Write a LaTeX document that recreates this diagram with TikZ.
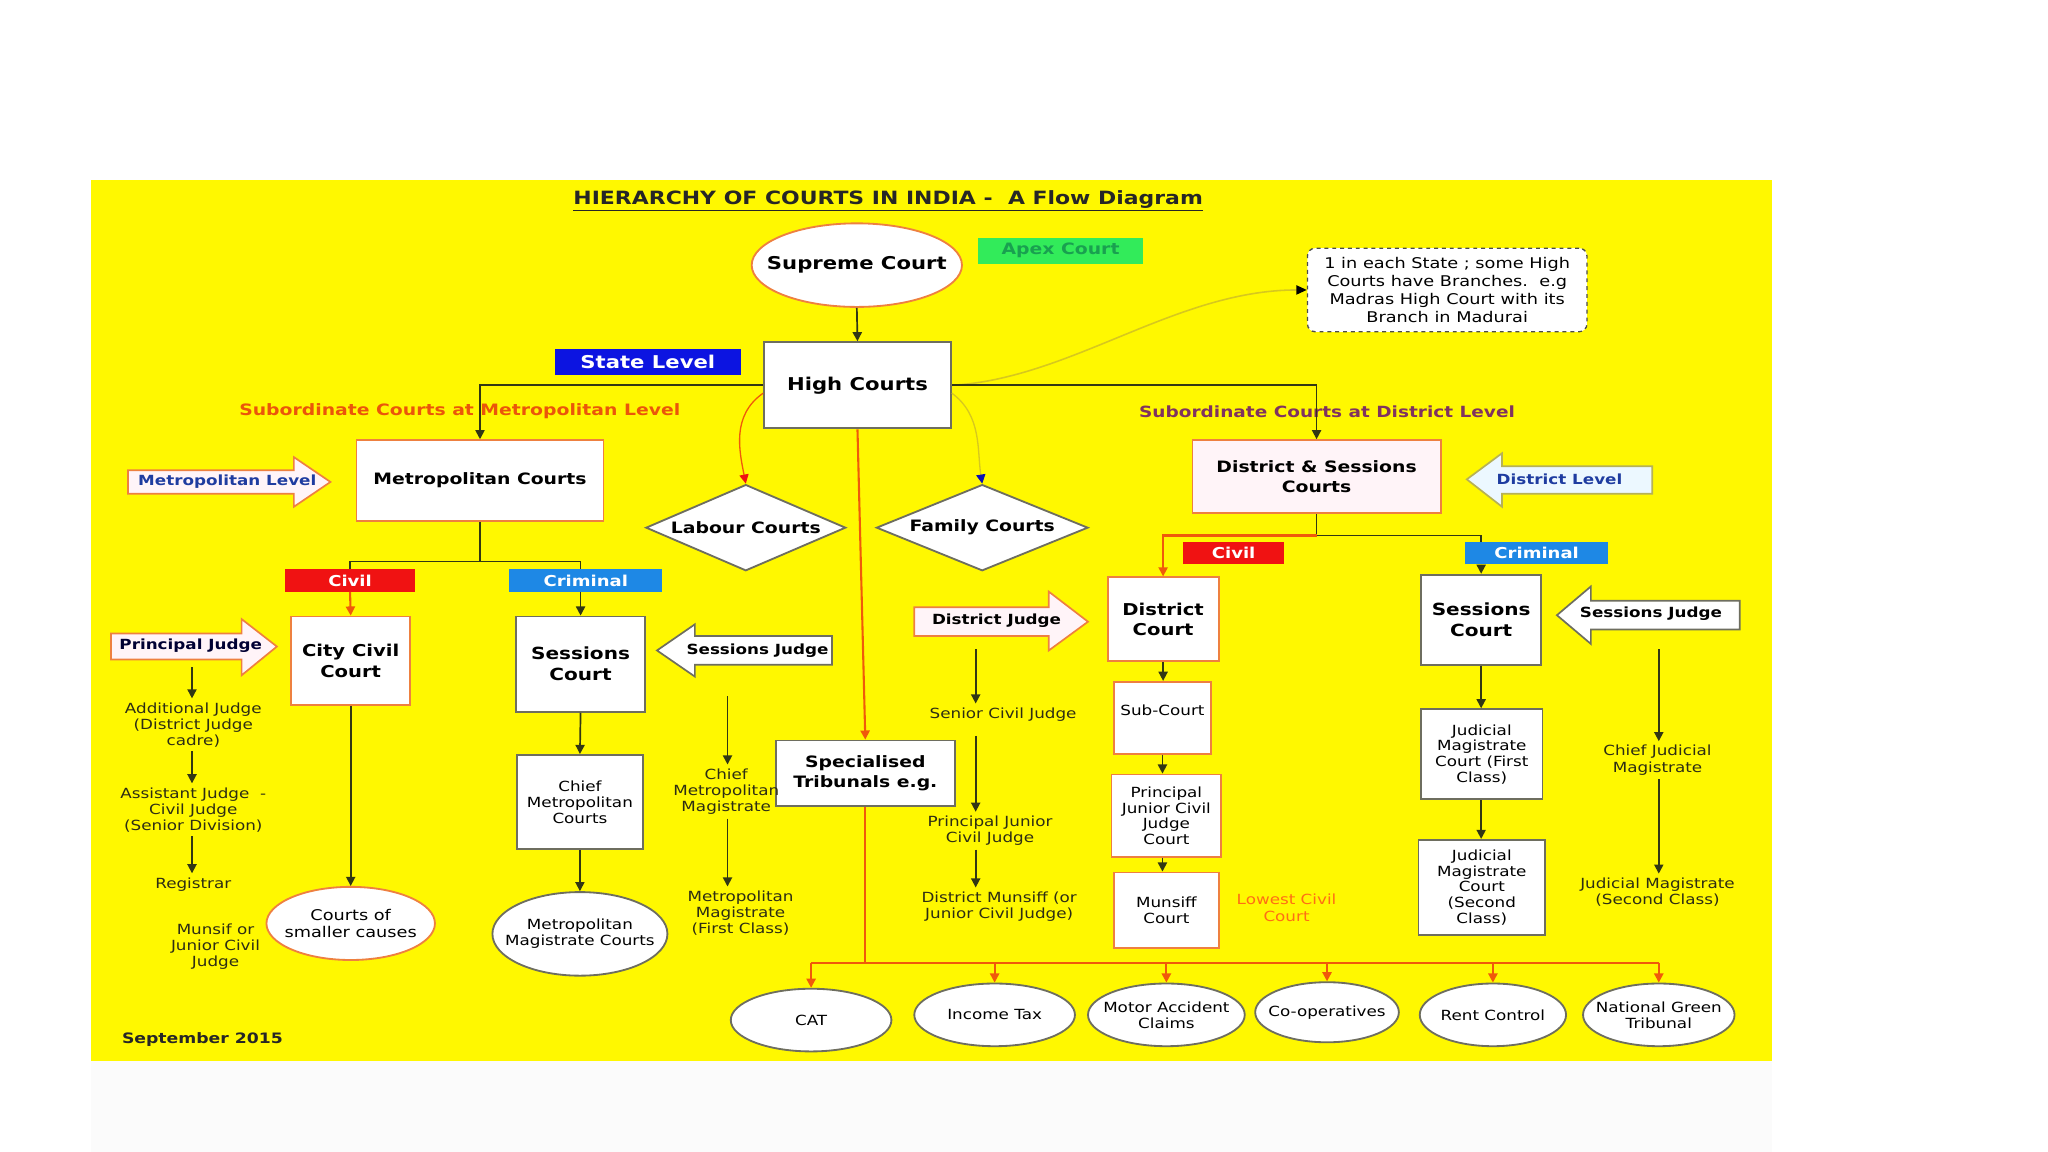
\documentclass[tikz,border=0pt]{standalone}
\usepackage{fontspec}
\setmainfont{DejaVu Sans}[FakeStretch=1.2]
\usetikzlibrary{shapes.geometric,arrows.meta}
\definecolor{bgyellow}{RGB}{255,248,0}
\definecolor{stateblue}{RGB}{12,20,225}
\definecolor{apexgreen}{RGB}{50,235,90}
\definecolor{apextext}{RGB}{25,160,80}
\definecolor{civred}{RGB}{240,18,18}
\definecolor{crimblue}{RGB}{30,136,229}
\definecolor{borange}{RGB}{238,128,64}
\definecolor{bgray}{RGB}{110,110,95}
\definecolor{ldark}{RGB}{50,55,20}
\definecolor{lorange}{RGB}{240,90,10}
\definecolor{metrotxt}{RGB}{235,85,10}
\definecolor{disttxt}{RGB}{128,50,95}
\definecolor{smalltxt}{RGB}{45,45,20}
\definecolor{lvlblue}{RGB}{30,60,160}
\definecolor{curveyel}{RGB}{215,200,30}
\definecolor{pinkfill}{RGB}{255,244,248}
\definecolor{cyanfill}{RGB}{236,248,255}
\definecolor{lowtxt}{RGB}{255,110,20}
\tikzset{
  box/.style={rectangle, draw=#1, fill=white, line width=1.4pt, inner sep=1pt, align=center},
  oval/.style={ellipse, draw=#1, fill=white, line width=1.4pt, inner sep=0pt},
  dia/.style={diamond, draw=bgray, fill=white, line width=1.4pt, inner sep=0pt},
  bigb/.style={font=\fontsize{13.5}{16}\selectfont\bfseries},
  midb/.style={font=\fontsize{12}{15.5}\selectfont\bfseries},
  tagb/.style={font=\fontsize{10.7}{13}\selectfont\bfseries},
  smallr/.style={font=\fontsize{10.7}{12.3}\selectfont, align=center},
  smalltext/.style={smallr, text=smalltxt, inner sep=3pt},
  conn/.style={draw=ldark, line width=1.3pt},
  oconn/.style={draw=lorange, line width=1.6pt},
  arr/.style={-{Triangle[length=7pt,width=7pt]}},
  blockarrow/.style={line width=1.3pt, line join=miter},
  tagbox/.style={minimum height=17, inner sep=0pt, text=white, font=\fontsize{11.5}{13}\selectfont\bfseries}
}
\begin{document}
\begin{tikzpicture}[x=1pt,y=-1pt]
\useasboundingbox (0,0) rectangle (1568,882);
\fill[white] (0,0) rectangle (1568,882);
\fill[black!1.5] (70,812) rectangle (1357,882);
\fill[bgyellow] (70,138) rectangle (1357,812);

% title
\node[font=\fontsize{14}{16}\selectfont\bfseries, text=black!85] (title) at (680,154) {\underline{HIERARCHY OF COURTS IN INDIA -\ \ A Flow Diagram}};

% top
\node[oval=borange, minimum width=161, minimum height=64] (sup) at (656,203) {};
\node[bigb] (supt) at (sup.center) {Supreme Court};
\node[fill=apexgreen, text=apextext, midb, minimum width=126, minimum height=20, inner sep=0pt] (apex) at (812,192) {Apex Court};
\node[box=bgray, bigb, minimum width=143, minimum height=66] (hc) at (656.5,295) {High Courts};
\node[fill=stateblue, text=white, bigb, minimum width=142, minimum height=20, inner sep=0pt] (state) at (496,277) {State Level};
\node[draw=black!70, dashed, rounded corners=6pt, fill=white, line width=1pt, minimum width=214, minimum height=64, align=center, inner sep=2pt, font=\fontsize{11.3}{13.6}\selectfont] (note) at (1108,222) {1 in each State ; some High\\Courts have Branches.\ \ e.g\\Madras High Court with its\\Branch in Madurai};

\draw[conn, arr] (sup.south) -- (hc.north);
\draw[curveyel, line width=1.2pt, -{Triangle[length=8pt,width=7pt,color=black]}] (hc.east) .. controls (820,290) and (900,222) .. (note.west);

% subordinate labels
\node[text=metrotxt, midb] (submetro) at (352,315) {Subordinate Courts at Metropolitan Level};
\node[text=disttxt, font=\fontsize{11.8}{14}\selectfont\bfseries] (subdist) at (1016,315) {Subordinate Courts at District Level};

% metropolitan
\node[box=borange, midb, minimum width=189, minimum height=62] (mc) at (367.5,368) {Metropolitan Courts};
\draw[conn, arr] (hc.west) -| (mc.north);
\draw[blockarrow, draw=borange, fill=pinkfill] (98,360) -- (225,360) -- (225,350) -- (253,369) -- (225,388) -- (225,378) -- (98,378) -- cycle;
\node[text=lvlblue, tagb] (mlvl) at (174,369) {Metropolitan Level};

% labour / family
\node[dia, minimum width=153, minimum height=66] (lab) at (571,404) {};
\node[midb] (labt) at (lab.center) {Labour Courts};
\node[dia, minimum width=162, minimum height=66] (fam) at (752,404) {};
\node[midb] (famt) at (fam.center) {Family Courts};
\draw[lorange, line width=1pt, -{Triangle[length=7pt,width=7pt,color=civred]}] ([yshift=-6pt]hc.west) .. controls (560,318) and (566,345) .. (lab.north);
\draw[curveyel, line width=1pt, -{Triangle[length=7pt,width=7pt,color=stateblue!80!black]}] ([yshift=-6pt]hc.east) .. controls (752,318) and (748,345) .. (fam.north);

% specialised tribunals
\node[box=bgray, midb, minimum width=137, minimum height=50] (st) at (662.5,592) {Specialised\\Tribunals e.g.};
\draw[oconn, arr] (hc.south) -- (st.north);

% metro branches
\node[fill=civred, tagbox, minimum width=100] (civ1) at (268,444.5) {Civil};
\node[fill=crimblue, tagbox, minimum width=117] (crim1) at (448.5,444.5) {Criminal};
\node[box=borange, font=\fontsize{12.5}{16}\selectfont\bfseries, minimum width=91, minimum height=68] (ccc) at (268.5,506) {City Civil\\Court};
\node[box=bgray, font=\fontsize{12.8}{16}\selectfont\bfseries, minimum width=99, minimum height=73] (sc1) at (444.5,508.5) {Sessions\\Court};
\coordinate (mj) at (367.5,430);
\draw[conn] (mc.south) -- (mj);
\draw[conn] (mj) -| (civ1.north);
\draw[conn] (mj) -| (sc1.north |- crim1.north);
\draw[oconn, arr] (civ1.south) -- (ccc.north);
\draw[conn, arr] (sc1.north |- crim1.south) -- (sc1.north);

\node[oval=borange, minimum width=129, minimum height=56] (csc) at (268.5,707) {};
\node[smallr, font=\fontsize{11.3}{13}\selectfont] (csct) at (csc.center) {Courts of\\smaller causes};
\draw[conn, arr] (ccc.south) -- (csc.north);
\node[box=bgray, smallr, minimum width=96, minimum height=72] (cmc) at (444,614) {Chief\\Metropolitan\\Courts};
\draw[conn, arr] (sc1.south) -- (cmc.north);
\node[oval=bgray, minimum width=134, minimum height=64] (mmc) at (444,715) {};
\node[smallr] (mmct) at (mmc.center) {Metropolitan\\Magistrate Courts};
\draw[conn, arr] (cmc.south) -- (mmc.north);

% principal judge arrow and column
\draw[blockarrow, draw=borange, fill=pinkfill] (85,485) -- (185,485) -- (185,474) -- (212,495) -- (185,517) -- (185,505) -- (85,505) -- cycle;
\node[text=black!80!blue, tagb] (pj) at (146,494) {Principal Judge};
\coordinate (pjb) at (147,511);
\node[smalltext] (addj) at (148,555) {Additional Judge\\(District Judge\\cadre)};
\node[smalltext] (asj) at (148,620) {Assistant Judge\ \ -\\Civil Judge\\(Senior Division)};
\node[smalltext] (reg) at (148,677) {Registrar};
\node[smalltext] (mun) at (165,725) {Munsif or\\Junior Civil\\Judge};
\draw[conn, arr] (pjb) -- (pjb |- addj.north);
\draw[conn, arr] (pjb |- addj.south) -- (pjb |- asj.north);
\draw[conn, arr] (pjb |- asj.south) -- (pjb |- reg.north);

% sessions judge (metro)
\draw[blockarrow, draw=bgray, fill=white] (503,498) -- (532,478) -- (532,487) -- (637,487) -- (637,509) -- (532,509) -- (532,518) -- cycle;
\node[tagb] (sj1) at (580,498) {Sessions Judge};
\coordinate (sjb) at (557,533);
\node[smalltext] (cmm) at (556,606) {Chief\\Metropolitan\\Magistrate};
\node[smalltext] (mmfc) at (567,699) {Metropolitan\\Magistrate\\(First Class)};
\draw[conn, arr] (sjb) -- (sjb |- cmm.north);
\draw[conn, arr] (sjb |- cmm.south) -- (sjb |- mmfc.north);

% district & sessions
\node[box=borange, fill=pinkfill, midb, minimum width=190, minimum height=56] (dsc) at (1008,365) {District \& Sessions\\Courts};
\draw[conn, arr] (hc.east) -| (dsc.north);
\draw[blockarrow, draw=black!25!yellow!70!gray, fill=cyanfill] (1123,367) -- (1150,347) -- (1150,357) -- (1265,357) -- (1265,378) -- (1150,378) -- (1150,388) -- cycle;
\node[text=lvlblue, tagb] (dlvl) at (1194,367) {District Level};

\node[fill=civred, tagbox, minimum width=77] (civ2) at (944.5,423.5) {Civil};
\node[fill=crimblue, tagbox, minimum width=109] (crim2) at (1176.5,423.5) {Criminal};
\node[box=borange, midb, font=\fontsize{12.5}{15.5}\selectfont\bfseries, minimum width=85, minimum height=64] (dc) at (890.5,474) {District\\Court};
\node[box=bgray, font=\fontsize{12.8}{16}\selectfont\bfseries, minimum width=92, minimum height=69] (sc2) at (1134,474.5) {Sessions\\Court};
\coordinate (dj) at (1008,410);
\draw[conn] (dsc.south) -- (dj);
\draw[oconn, arr] (dj) -| (dc.north);
\draw[conn] (dj) -| (sc2.north |- crim2.north);
\draw[conn, arr] (sc2.north |- crim2.south) -- (sc2.north);

% district judge arrow and column
\draw[blockarrow, draw=borange, fill=pinkfill] (700,465) -- (803,465) -- (803,453) -- (833,476) -- (803,498) -- (803,487) -- (700,487) -- cycle;
\node[tagb] (djd) at (763,475) {District Judge};
\coordinate (djb) at (747,497);
\node[smalltext] (scj) at (768,547) {Senior Civil Judge};
\node[smalltext] (pjcj) at (758,636) {Principal Junior\\Civil Judge};
\node[smalltext] (dmun) at (765,694) {District Munsiff (or\\Junior Civil Judge)};
\draw[conn, arr] (djb) -- (djb |- scj.north);
\draw[conn, arr] ([yshift=-8pt]djb |- scj.south) -- (djb |- pjcj.north);
\draw[conn, arr] (djb |- pjcj.south) -- (djb |- dmun.north);

% district court chain
\node[box=borange, minimum width=74, minimum height=55] (sub) at (890,549.5) {};
\node[smallr] (subt) at ([yshift=6pt]sub.center) {Sub-Court};
\node[box=borange, smallr, font=\fontsize{10.7}{12}\selectfont, minimum width=84, minimum height=63] (pjc) at (893,624.5) {Principal\\Junior Civil\\Judge\\Court};
\node[box=borange, smallr, minimum width=80, minimum height=58] (munc) at (893,697) {Munsiff\\Court};
\draw[conn, arr] (dc.south) -- (dc.south |- sub.north);
\draw[conn, arr] (sub.south) -- (sub.south |- pjc.north);
\draw[conn, arr] (pjc.south -| sub.south) -- (sub.south |- munc.north);
\node[smallr, text=lowtxt] (low) at (985,695) {Lowest Civil\\Court};

% sessions court chain (district)
\node[box=bgray, smallr, font=\fontsize{10.7}{12}\selectfont, minimum width=93, minimum height=69] (jm1) at (1134.5,577.5) {Judicial\\Magistrate\\Court (First\\Class)};
\node[box=bgray, smallr, font=\fontsize{10.7}{12}\selectfont, minimum width=97, minimum height=73] (jm2b) at (1134.5,679.5) {Judicial\\Magistrate\\Court\\(Second\\Class)};
\draw[conn, arr] (sc2.south) -- (sc2.south |- jm1.north);
\draw[conn, arr] (sc2.south |- jm1.south) -- (sc2.south |- jm2b.north);

% sessions judge (district)
\draw[blockarrow, draw=bgray, fill=white] (1192,471) -- (1218,449) -- (1218,460) -- (1332,460) -- (1332,482) -- (1218,482) -- (1218,493) -- cycle;
\node[tagb] (sj2) at (1264,470) {Sessions Judge};
\coordinate (sj2b) at (1270,497);
\node[smalltext] (cjm) at (1269,582) {Chief Judicial\\Magistrate};
\node[smalltext] (jm2t) at (1269,683) {Judicial Magistrate\\(Second Class)};
\draw[conn, arr] (sj2b) -- (sj2b |- cjm.north);
\draw[conn, arr] (sj2b |- cjm.south) -- (sj2b |- jm2t.north);

% tribunals row
\node[oval=bgray, minimum width=123, minimum height=48] (cat) at (621,781) {};
\node[smallr] (catt) at (cat.center) {CAT};
\node[oval=bgray, minimum width=123, minimum height=48] (itax) at (761.5,777) {};
\node[smallr] (itaxt) at (itax.center) {Income Tax};
\node[oval=bgray, minimum width=120, minimum height=48] (mac) at (893,777) {};
\node[smallr] (mact) at (mac.center) {Motor Accident\\Claims};
\node[oval=bgray, minimum width=110, minimum height=46] (coop) at (1016,775) {};
\node[smallr] (coopt) at (coop.center) {Co-operatives};
\node[oval=bgray, minimum width=112, minimum height=48] (rent) at (1143,777) {};
\node[smallr] (rentt) at (rent.center) {Rent Control};
\node[oval=bgray, minimum width=116, minimum height=48] (ngt) at (1270,777) {};
\node[smallr] (ngtt) at (ngt.center) {National Green\\Tribunal};
\coordinate (busy) at (0,737);
\draw[oconn] (st.south) -- (st.south |- busy);
\draw[oconn] (cat.north |- busy) -- (ngt.north |- busy);
\foreach \n in {cat,itax,mac,coop,rent,ngt}
  \draw[oconn, arr] (\n.north |- busy) -- (\n.north);

\node[font=\fontsize{11}{13}\selectfont\bfseries, text=black!85] (sept) at (155,796) {September 2015};
\end{tikzpicture}
\end{document}
